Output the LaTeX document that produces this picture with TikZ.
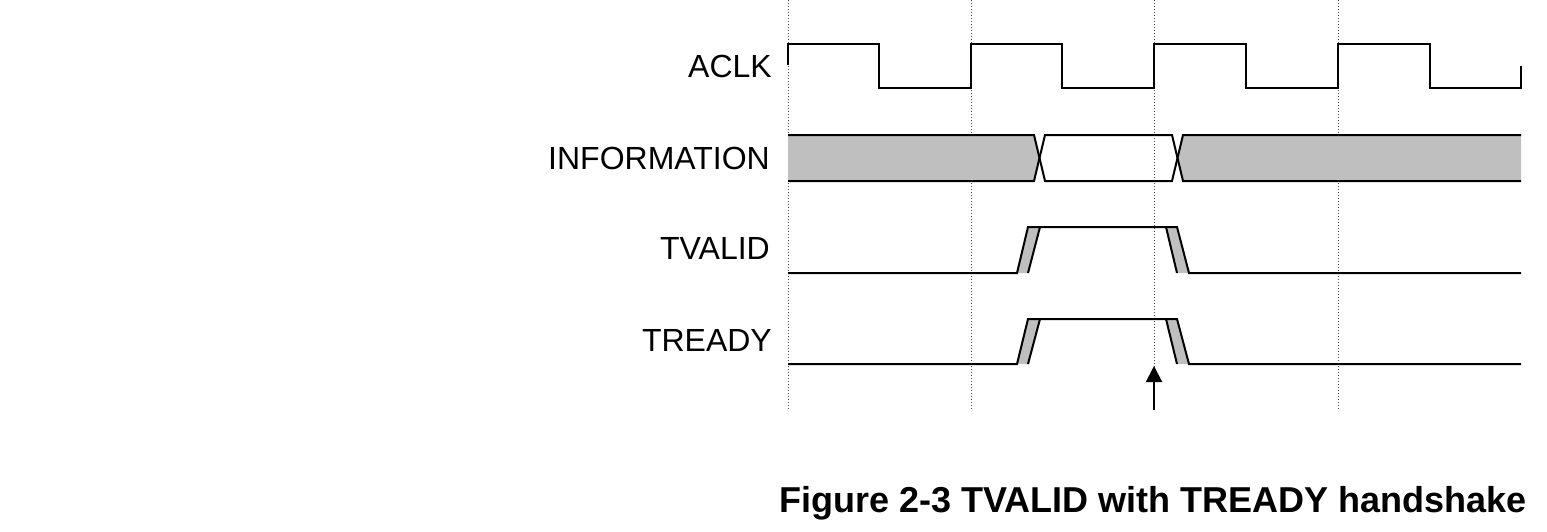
\documentclass[tikz,border=0pt]{standalone}
\usepackage{fontspec}
\setmainfont{Liberation Sans}
\usetikzlibrary{arrows.meta}
\begin{document}
\begin{tikzpicture}[x=1pt,y=-1pt,
  sig/.style={line width=2pt,line join=miter},
  lab/.style={anchor=east,font=\fontsize{32}{36}\selectfont,inner sep=0pt},
  grid/.style={dotted,line width=1pt,black!70},
  gr/.style={fill=black!25}]
\useasboundingbox (0,0) rectangle (1547,531);
\foreach \x in {788,971,1154,1338} \draw[grid] (\x,0) -- (\x,410);
\node[lab] (aclk) at (772,66) {ACLK};
\node[lab] (info) at (770,158) {INFORMATION};
\node[lab] (tv) at (770,248) {TVALID};
\node[lab] (tr) at (772,340) {TREADY};
% clock
\draw[sig] (788,65) -- (788,44) -- (879,44) -- (879,88) -- (971,88) -- (971,44) -- (1062,44) -- (1062,88) -- (1154,88) -- (1154,44) -- (1246,44) -- (1246,88) -- (1338,88) -- (1338,44) -- (1430,44) -- (1430,88) -- (1521,88) -- (1521,66);
% information
\fill[gr] (788,135) -- (1034,135) -- (1039,158) -- (1034,181) -- (788,181) -- cycle;
\fill[gr] (1521,135) -- (1183,135) -- (1177,158) -- (1183,181) -- (1521,181) -- cycle;
\draw[sig] (788,135) -- (1034,135) -- (1045,181) -- (1172,181) -- (1183,135) -- (1521,135);
\draw[sig] (788,181) -- (1034,181) -- (1045,135) -- (1172,135) -- (1183,181) -- (1521,181);
% tvalid & tready
\foreach \h/\l in {227/273,319/364}{
  \fill[gr] (1017,\l) -- (1028,\h) -- (1040,\h) -- (1028,\l) -- cycle;
  \fill[gr] (1166,\h) -- (1177,\h) -- (1189,\l) -- (1177,\l) -- cycle;
  \draw[sig] (788,\l) -- (1017,\l) -- (1028,\h) -- (1177,\h) -- (1189,\l) -- (1521,\l);
  \draw[sig] (1028,\l) -- (1040,\h);
  \draw[sig] (1166,\h) -- (1177,\l);
}
\coordinate (ab) at (1154,410);
\coordinate (at) at (1154,366);
\draw[line width=2pt,-{Triangle[length=16pt,width=16pt]}] (ab) -- (at);
\node[anchor=base east,font=\bfseries\fontsize{36}{40}\selectfont,inner sep=0pt] (cap) at (1527,512) {Figure 2-3 TVALID with TREADY handshake};
\end{tikzpicture}
\end{document}
